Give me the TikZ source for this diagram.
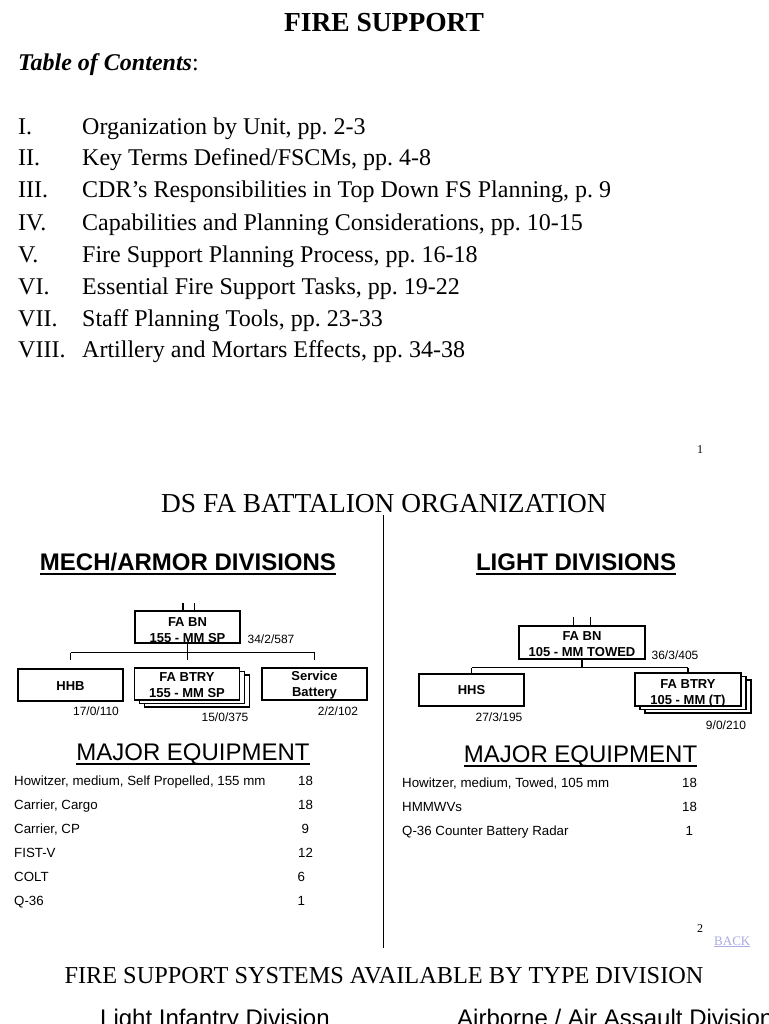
\documentclass[tikz,border=0pt]{standalone}
\usepackage{fontspec}
\setmainfont{Liberation Serif}
\setsansfont{Liberation Sans}
\usetikzlibrary{shadows}
\frenchspacing
\newcommand*\sz[2]{\fontsize{#1}{#2}\selectfont}
\definecolor{backblue}{RGB}{170,170,228}

\begin{document}
\begin{tikzpicture}[x=1pt,y=-1pt,
  unitbox/.style={draw,line width=1.3pt,fill=white,minimum width=105pt,minimum height=32pt,inner sep=0pt,align=center,font=\sffamily\bfseries\sz{13}{16}},
  stack/.style={double copy shadow={shadow xshift=5pt,shadow yshift=-3.5pt}},
  strength/.style={font=\sffamily\sz{12}{14},inner sep=0pt,anchor=base},
  heading/.style={font=\sffamily\bfseries\sz{24}{28},inner sep=0pt,anchor=base,text depth=0pt},
  equip/.style={font=\sffamily\sz{24}{28},inner sep=0pt,anchor=base,text depth=0pt},
  item/.style={font=\sffamily\sz{13.3}{15},inner sep=0pt,anchor=base west},
  tocline/.style={font=\sz{24}{28},inner sep=0pt,anchor=base west},
  wire/.style={line width=1.2pt}]
\fill[white] (0,0) rectangle (768,1024);
\clip (0,0) rectangle (768,1024);

\node[font=\bfseries\sz{27.5}{32},anchor=base,inner sep=0pt] (title) at (384,32) {FIRE SUPPORT};
\node[tocline] (contents) at (18,71) {\textbf{\textit{Table of Contents}}:};
\node[tocline] (n1) at (18,135) {I.};
\node[tocline] (t1) at (82,135) {Organization by Unit, pp. 2-3};
\node[tocline] (n2) at (18,166) {II.};
\node[tocline] (t2) at (82,166) {Key Terms Defined/FSCMs, pp. 4-8};
\node[tocline] (n3) at (18,198) {III.};
\node[tocline] (t3) at (82,198) {CDR’s Responsibilities in Top Down FS Planning, p. 9};
\node[tocline] (n4) at (18,230) {IV.};
\node[tocline] (t4) at (82,230) {Capabilities and Planning Considerations, pp. 10-15};
\node[tocline] (n5) at (18,262) {V.};
\node[tocline] (t5) at (82,262) {Fire Support Planning Process, pp. 16-18};
\node[tocline] (n6) at (18,294) {VI.};
\node[tocline] (t6) at (82,294) {Essential Fire Support Tasks, pp. 19-22};
\node[tocline] (n7) at (18,326) {VII.};
\node[tocline] (t7) at (82,326) {Staff Planning Tools, pp. 23-33};
\node[tocline] (n8) at (18,357) {VIII.};
\node[tocline] (t8) at (82,357) {Artillery and Mortars Effects, pp. 34-38};
\node[font=\sz{12}{14},anchor=base west,inner sep=0pt] (page1) at (697,453) {1};

\node[font=\sz{27.4}{30},anchor=base,inner sep=0pt] (orgtitle) at (384,512) {DS FA BATTALION ORGANIZATION};
\draw[line width=1pt] (383,515) -- (383,948);

\node[heading] (mechhd) at (188,570.5) {MECH/ARMOR DIVISIONS};
\draw[line width=2pt] ([yshift=-3.5pt]mechhd.south west) -- ([yshift=-3.5pt]mechhd.south east);
\node[heading] (lighthd) at (576,570.5) {LIGHT DIVISIONS};
\draw[line width=2pt] ([yshift=-3.5pt]lighthd.south west) -- ([yshift=-3.5pt]lighthd.south east);

\node[unitbox,text height=31.5pt,text depth=.5pt] (bnL) at (187.5,627) {FA BN\\155 - MM SP};
\node[unitbox,text height=21.5pt,text depth=10.5pt] (hhb) at (70.5,685) {HHB};
\node[unitbox,stack,text height=29.5pt,text depth=2.5pt] (btryL) at (187,684) {FA BTRY\\155 - MM SP};
\node[unitbox,text height=28.5pt,text depth=3.5pt] (svc) at (314.5,684) {Service\\Battery};
\coordinate (upL1) at ([xshift=-4.5pt,yshift=7pt]bnL.north);
\coordinate (upL2) at ([xshift=6.5pt,yshift=7pt]bnL.north);
\draw[line width=1.2pt] (upL1) -- (upL1 |- bnL.north);
\draw[line width=.8pt] (upL2) -- (upL2 |- bnL.north);
\coordinate (busL) at ([yshift=-9pt]bnL.south);
\draw[wire] (bnL.south) -- (busL) -- ++(0,7);
\draw[wire] (hhb.north |- busL) -- (svc.north |- busL);
\draw[wire] (hhb.north |- busL) -- ++(0,7);
\draw[wire] (svc.north |- busL) -- ++(0,7);
\node[strength] (sbnL) at (271,643) {34/2/587};
\node[strength] (shhb) at (96,715) {17/0/110};
\node[strength] (sbtryL) at (225,721) {15/0/375};
\node[strength] (ssvc) at (338,715) {2/2/102};

\node[unitbox,minimum width=126pt,minimum height=33pt,text height=30.5pt,text depth=2.5pt] (bnR) at (582,642.5) {FA BN\\105 - MM TOWED};
\node[unitbox,text height=20.5pt,text depth=11.5pt] (hhs) at (471.5,690) {HHS};
\node[unitbox,stack,minimum width=106pt,minimum height=33pt,text height=31.5pt,text depth=1.5pt] (btryR) at (688,689.5) {FA BTRY\\105 - MM (T)};
\coordinate (upR1) at ([xshift=-8.5pt,yshift=8pt]bnR.north);
\coordinate (upR2) at ([xshift=8pt,yshift=8pt]bnR.north);
\draw[line width=.8pt] (upR1) -- (upR1 |- bnR.north);
\draw[line width=.8pt] (upR2) -- (upR2 |- bnR.north);
\coordinate (busR) at ([yshift=-8pt]bnR.south);
\draw[wire] (bnR.south) -- (busR);
\draw[wire] (hhs.north |- busR) -- (btryR.north |- busR);
\draw[wire] (hhs.north |- busR) -- (hhs.north);
\draw[wire] (btryR.north |- busR) -- (btryR.north);
\node[strength] (sbnR) at (675,659) {36/3/405};
\node[strength] (shhs) at (499,721) {27/3/195};
\node[strength] (sbtryR) at (726,729) {9/0/210};

\node[equip] (equipL) at (193,760.5) {MAJOR EQUIPMENT};
\draw[line width=1.6pt] ([yshift=-3pt]equipL.south west) -- ([yshift=-3pt]equipL.south east);
\node[item] (e1) at (14,785.5) {Howitzer, medium, Self Propelled, 155 mm};
\node[item] (e1n) at (298,785.5) {18};
\node[item] (e2) at (14,809.5) {Carrier, Cargo};
\node[item] (e2n) at (298,809.5) {18};
\node[item] (e3) at (14,833.5) {Carrier, CP};
\node[item] (e3n) at (301.5,833.5) {9};
\node[item] (e4) at (14,857.5) {FIST-V};
\node[item] (e4n) at (298,857.5) {12};
\node[item] (e5) at (14,881.5) {COLT};
\node[item] (e5n) at (297.5,881.5) {6};
\node[item] (e6) at (14,905.5) {Q-36};
\node[item] (e6n) at (297.5,905.5) {1};

\node[equip] (equipR) at (580.5,762.5) {MAJOR EQUIPMENT};
\draw[line width=1.6pt] ([yshift=-3pt]equipR.south west) -- ([yshift=-3pt]equipR.south east);
\node[item] (r1) at (402,787.5) {Howitzer, medium, Towed, 105 mm};
\node[item] (r1n) at (682,787.5) {18};
\node[item] (r2) at (402,811.5) {HMMWVs};
\node[item] (r2n) at (682,811.5) {18};
\node[item] (r3) at (402,835.5) {Q-36 Counter Battery Radar};
\node[item] (r3n) at (685.5,835.5) {1};

\node[font=\sz{12}{14},anchor=base west,inner sep=0pt] (page2) at (697,932) {2};
\node[font=\sz{13}{15},anchor=base west,inner sep=0pt,text=backblue] (back) at (714,945) {\underline{BACK}};

\node[font=\sz{24.3}{28},anchor=base,inner sep=0pt] (systitle) at (384,983) {FIRE SUPPORT SYSTEMS AVAILABLE BY TYPE DIVISION};
\node[font=\sffamily\sz{24}{28},anchor=base west,inner sep=0pt] (lightdiv) at (100,1026) {Light Infantry Division};
\node[font=\sffamily\sz{24}{28},anchor=base west,inner sep=0pt] (airdiv) at (457,1026) {Airborne / Air Assault Division};
\end{tikzpicture}
\end{document}
